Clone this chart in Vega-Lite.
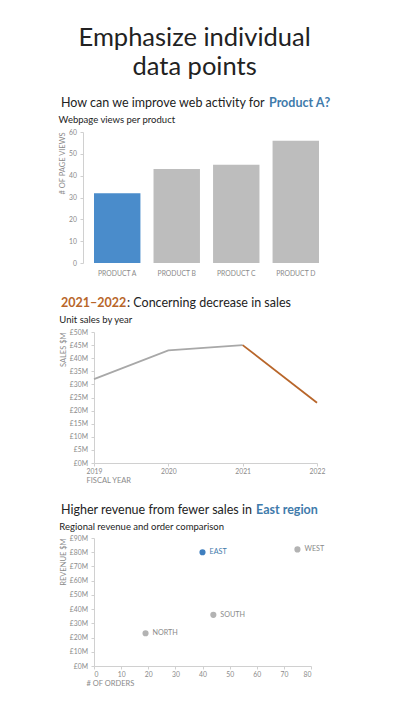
{
  "$schema": "https://vega.github.io/schema/vega-lite/v6.json",
  "padding": {"left": 58, "top": 26, "right": 8, "bottom": 8},
  "background": "white",
  "title": {
    "text": ["Emphasize individual", "data points"],
    "fontSize": 25.5, "lineHeight": 29, "fontWeight": "normal", "color": "#222222",
    "anchor": "middle", "offset": 16
  },
  "columns": 1,
  "align": "none",
  "spacing": {"row": 19},
  "resolve": {"scale": {"color": "independent"}},
  "concat": [
    {
      "columns": 1, "align": "none", "spacing": {"row": 0},
      "concat": [
        {
          "spacing": 3,
          "hconcat": [
            {"title": {"text": "How can we improve web activity for", "dx": -33}, "data": {"values": []}, "mark": "point", "width": 1, "height": 1},
            {"title": {"text": "Product A?", "dx": -33, "fontWeight": "bold", "color": "#3f7bab"}, "data": {"values": []}, "mark": "point", "width": 1, "height": 1}
          ]
        },
        {
          "title": {"text": "Webpage views per product", "fontSize": 9.5, "offset": 5},
          "width": 225, "height": 131,
          "data": {"values": [
            {"product": "PRODUCT A", "views": 32, "focus": "yes"},
            {"product": "PRODUCT B", "views": 43, "focus": "no"},
            {"product": "PRODUCT C", "views": 45, "focus": "no"},
            {"product": "PRODUCT D", "views": 56, "focus": "no"}
          ]},
          "mark": "bar",
          "encoding": {
            "x": {"field": "product", "type": "nominal", "title": null,
                  "scale": {"paddingInner": 0.22, "paddingOuter": 0.0},
                  "axis": {"labelAngle": 0, "ticks": false, "domain": false, "labelPadding": 7}},
            "y": {"field": "views", "type": "quantitative", "title": "# OF PAGE VIEWS",
                  "scale": {"domain": [0, 60]}, "axis": {"tickCount": 6, "offset": 11}},
            "color": {"field": "focus", "type": "nominal", "legend": null,
                      "scale": {"domain": ["yes", "no"], "range": ["#4a8ccb", "#bdbdbd"]}}
          }
        }
      ]
    },
    {
      "columns": 1, "align": "none", "spacing": {"row": 0},
      "concat": [
        {
          "spacing": 0,
          "hconcat": [
            {"title": {"text": "2021–2022", "dx": -33, "fontWeight": "bold", "color": "#b8662a"}, "data": {"values": []}, "mark": "point", "width": 1, "height": 1},
            {"title": {"text": ": Concerning decrease in sales", "dx": -33}, "data": {"values": []}, "mark": "point", "width": 1, "height": 1}
          ]
        },
        {
          "title": {"text": "Unit sales by year", "fontSize": 9.5, "offset": 5},
          "width": 223, "height": 131,
          "data": {"values": [
            {"year": "2019", "sales": 32, "seg": "before"},
            {"year": "2020", "sales": 43, "seg": "before"},
            {"year": "2021", "sales": 45, "seg": "before"},
            {"year": "2021", "sales": 45, "seg": "drop"},
            {"year": "2022", "sales": 23, "seg": "drop"}
          ]},
          "mark": {"type": "line", "strokeWidth": 1.8},
          "encoding": {
            "x": {"field": "year", "type": "ordinal", "title": "FISCAL YEAR",
                  "scale": {"padding": 0},
                  "axis": {"labelAngle": 0, "labelPadding": 2.5, "titleAnchor": "start", "titleX": -8, "titlePadding": 1}},
            "y": {"field": "sales", "type": "quantitative", "title": "SALES $M",
                  "scale": {"domain": [0, 50]},
                  "axis": {"tickCount": 10, "labelExpr": "'£' + datum.value + 'M'"}},
            "color": {"field": "seg", "type": "nominal", "legend": null,
                      "scale": {"domain": ["before", "drop"], "range": ["#a8a8a8", "#b8662a"]}}
          }
        }
      ]
    },
    {
      "columns": 1, "align": "none", "spacing": {"row": 0},
      "concat": [
        {
          "spacing": 3,
          "hconcat": [
            {"title": {"text": "Higher revenue from fewer sales in", "dx": -33}, "data": {"values": []}, "mark": "point", "width": 1, "height": 1},
            {"title": {"text": "East region", "dx": -33, "fontWeight": "bold", "color": "#3f7bab"}, "data": {"values": []}, "mark": "point", "width": 1, "height": 1}
          ]
        },
        {
          "title": {"text": "Regional revenue and order comparison", "fontSize": 9.5, "offset": 4},
          "width": 217, "height": 128,
          "data": {"values": [
            {"region": "EAST", "orders": 40, "revenue": 80, "focus": "yes"},
            {"region": "WEST", "orders": 75, "revenue": 82, "focus": "no"},
            {"region": "SOUTH", "orders": 44, "revenue": 36, "focus": "no"},
            {"region": "NORTH", "orders": 19, "revenue": 23, "focus": "no"}
          ]},
          "resolve": {"scale": {"color": "independent"}},
          "encoding": {
            "x": {"field": "orders", "type": "quantitative", "title": "# OF ORDERS",
                  "scale": {"domain": [0, 80]},
                  "axis": {"tickCount": 8, "labelPadding": 2.5, "titleAnchor": "start", "titleX": -8, "titlePadding": 1}},
            "y": {"field": "revenue", "type": "quantitative", "title": "REVENUE $M",
                  "scale": {"domain": [0, 90]},
                  "axis": {"tickCount": 9, "labelExpr": "'£' + datum.value + 'M'"}}
          },
          "layer": [
            {
              "mark": {"type": "circle", "size": 38, "opacity": 1},
              "encoding": {
                "color": {"field": "focus", "type": "nominal", "legend": null,
                          "scale": {"domain": ["yes", "no"], "range": ["#3f7fbf", "#b3b3b3"]}}
              }
            },
            {
              "mark": {"type": "text", "align": "left", "dx": 7, "fontSize": 7.2},
              "encoding": {
                "text": {"field": "region"},
                "color": {"field": "focus", "type": "nominal", "legend": null,
                          "scale": {"domain": ["yes", "no"], "range": ["#3f7bab", "#8a8a8a"]}}
              }
            }
          ]
        }
      ]
    }
  ],
  "config": {
    "font": "Lato",
    "view": {"stroke": null},
    "title": {"fontSize": 12.5, "fontWeight": "normal", "color": "#222222", "anchor": "start", "offset": 0},
    "axis": {
      "grid": false,
      "domainColor": "#d0d0d0",
      "tickColor": "#d0d0d0",
      "tickSize": 3,
      "labelColor": "#8a8a8a",
      "labelFontSize": 6.8,
      "labelPadding": 3.5,
      "titleColor": "#8a8a8a",
      "titleFontSize": 7.5,
      "titleFontWeight": "normal"
    },
    "axisY": {"titleAnchor": "end", "titlePadding": 2}
  }
}
